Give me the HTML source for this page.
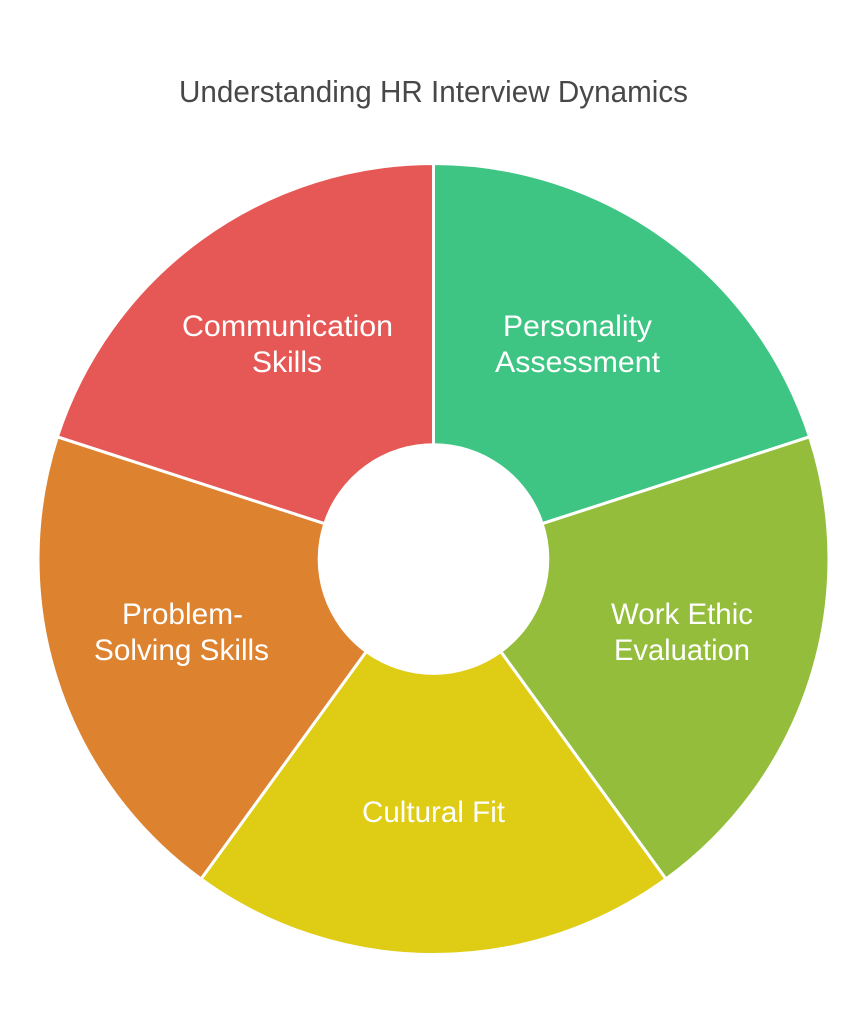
<!DOCTYPE html>
<html>
<head>
<meta charset="utf-8">
<style>
html,body{margin:0;padding:0;background:#fff;}
svg{display:block;}
text{font-family:"Liberation Sans",sans-serif;text-anchor:middle;}
.l{fill:#fff;font-size:30px;}
</style>
</head>
<body>
<svg width="868" height="1029" viewBox="0 0 868 1029" xmlns="http://www.w3.org/2000/svg">
<rect width="868" height="1029" fill="#fff"/>
<text x="433.500" y="102" font-size="31" fill="#484848" textLength="509" lengthAdjust="spacingAndGlyphs">Understanding HR Interview Dynamics</text>
<g stroke="#fff" stroke-width="3" stroke-linejoin="round">
<path d="M433.500 163.500 A395.500 395.500 0 0 1 809.600 436.800 L542.200 523.700 A114.300 114.300 0 0 0 433.500 444.700 Z" fill="#3EC583"/>
<path d="M809.600 436.800 A395.500 395.500 0 0 1 666 879 L500.700 651.500 A114.300 114.300 0 0 0 542.200 523.700 Z" fill="#93BD3B"/>
<path d="M666 879 A395.500 395.500 0 0 1 201 879 L366.300 651.500 A114.300 114.300 0 0 0 500.700 651.500 Z" fill="#DFCC14"/>
<path d="M201 879 A395.500 395.500 0 0 1 57.400 436.800 L324.800 523.700 A114.300 114.300 0 0 0 366.300 651.500 Z" fill="#DD822F"/>
<path d="M57.400 436.800 A395.500 395.500 0 0 1 433.500 163.500 L433.500 444.700 A114.300 114.300 0 0 0 324.800 523.700 Z" fill="#E65855"/>
</g>
<text class="l" x="577.500" y="336" textLength="149" lengthAdjust="spacingAndGlyphs">Personality</text>
<text class="l" x="577.500" y="372" textLength="165" lengthAdjust="spacingAndGlyphs">Assessment</text>
<text class="l" x="682" y="624" textLength="142" lengthAdjust="spacingAndGlyphs">Work Ethic</text>
<text class="l" x="682" y="660" textLength="136" lengthAdjust="spacingAndGlyphs">Evaluation</text>
<text class="l" x="433.500" y="822" textLength="143" lengthAdjust="spacingAndGlyphs">Cultural Fit</text>
<text class="l" x="182.500" y="624" textLength="121" lengthAdjust="spacingAndGlyphs">Problem-</text>
<text class="l" x="181.500" y="660" textLength="175" lengthAdjust="spacingAndGlyphs">Solving Skills</text>
<text class="l" x="287.500" y="336" textLength="211" lengthAdjust="spacingAndGlyphs">Communication</text>
<text class="l" x="287" y="372" textLength="70" lengthAdjust="spacingAndGlyphs">Skills</text>
</svg>
</body>
</html>
